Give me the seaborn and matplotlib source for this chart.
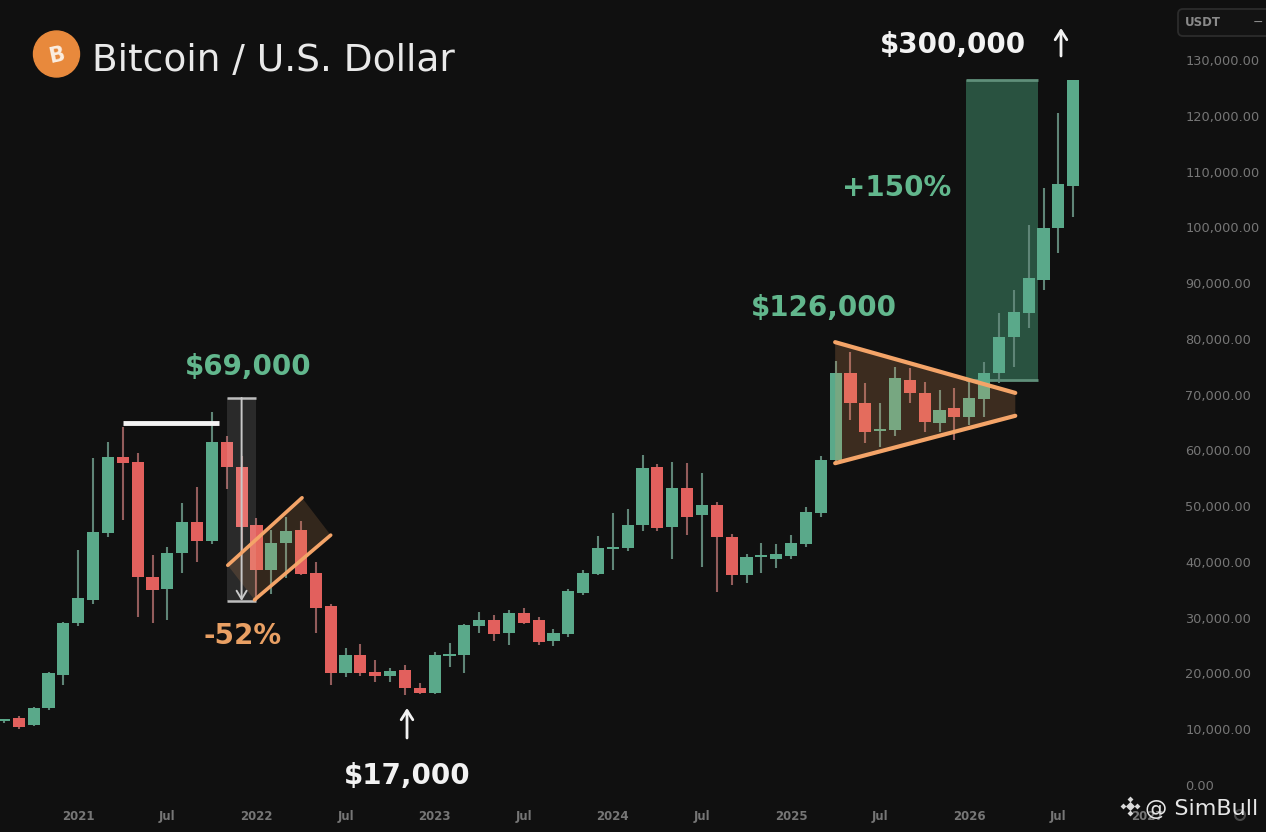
import numpy as np
import pandas as pd
import matplotlib
matplotlib.use("Agg")
import matplotlib.pyplot as plt
import seaborn as sns
from matplotlib.patches import Rectangle, Polygon, Circle, FancyBboxPatch

# ---------------- data: monthly candles (USD thousands) ----------------
months = pd.period_range("2020-08", periods=73, freq="M")
opens = [11.4, 12.0, 10.8, 13.8, 19.7, 29.0, 33.2, 45.2, 58.8, 57.9, 37.3, 35.1, 41.6, 47.2,
         43.8, 61.5, 57.0, 46.6, 38.5, 43.4, 45.7, 38.0, 32.1, 20.1, 23.3, 20.3, 19.6, 20.7,
         17.4, 16.5, 23.1, 23.3, 28.5, 29.6, 27.2, 30.9, 29.6, 25.8, 27.1, 34.4, 37.8, 42.3,
         42.5, 46.6, 57.0, 46.3, 53.3, 48.4, 50.2, 44.5, 37.7, 40.8, 40.5, 41.1, 43.2, 48.8,
         58.3, 73.9, 68.5, 63.5, 63.6, 72.6, 70.3, 64.9, 67.6, 66.0, 69.2, 73.9, 80.3, 84.6,
         90.5, 99.9, 107.4]
highs = [11.9, 12.3, 14.0, 20.3, 29.3, 42.1, 58.6, 61.5, 64.2, 59.5, 41.3, 42.7, 50.6, 53.4,
         66.9, 62.5, 59.0, 47.9, 45.8, 48.0, 47.4, 40.0, 32.4, 24.6, 25.2, 22.4, 21.0, 21.5,
         18.3, 23.9, 25.5, 28.9, 31.0, 30.5, 31.4, 31.8, 30.1, 28.0, 35.2, 38.5, 44.7, 48.8,
         49.5, 59.2, 57.5, 57.9, 57.7, 55.9, 50.7, 45.0, 41.5, 43.4, 43.2, 44.8, 49.8, 59.0,
         76.0, 77.6, 72.1, 68.5, 75.0, 74.7, 72.3, 70.8, 71.2, 72.3, 75.8, 84.6, 88.8, 100.4,
         107.0, 120.5, 126.4]
lows = [11.1, 10.1, 10.5, 13.5, 17.9, 28.5, 32.5, 44.5, 47.5, 30.1, 29.0, 29.6, 38.0, 40.0,
        43.3, 53.0, 42.0, 33.0, 34.3, 37.2, 37.6, 27.3, 17.9, 19.4, 19.6, 18.5, 18.4, 16.1,
        16.3, 16.4, 21.2, 20.1, 27.3, 25.8, 25.1, 28.9, 25.1, 25.0, 26.6, 34.1, 37.6, 38.5,
        42.0, 45.5, 45.5, 40.5, 44.9, 39.1, 34.6, 35.8, 36.2, 38.0, 38.9, 40.5, 42.7, 48.0,
        57.5, 65.4, 61.3, 60.6, 62.5, 68.5, 63.3, 63.3, 61.9, 64.5, 66.0, 72.0, 75.0, 82.0,
        88.8, 95.4, 101.8]
closes = [11.6, 10.4, 13.8, 20.1, 29.0, 33.5, 45.4, 58.8, 57.7, 37.3, 35.0, 41.6, 47.2, 43.8,
          61.5, 57.0, 46.3, 38.5, 43.4, 45.5, 37.8, 31.7, 20.1, 23.3, 20.1, 19.5, 20.5, 17.4,
          16.5, 23.3, 23.4, 28.7, 29.6, 27.1, 30.8, 29.0, 25.6, 27.2, 34.8, 38.0, 42.5, 42.6,
          46.6, 56.8, 46.1, 53.3, 48.1, 50.2, 44.5, 37.7, 40.9, 41.0, 41.4, 43.4, 48.9, 58.3,
          73.9, 68.5, 63.3, 63.9, 73.0, 70.3, 65.1, 67.2, 66.0, 69.4, 73.9, 80.3, 84.8, 90.9,
          99.9, 107.8, 126.4]

ytick_values = list(range(0, 130001, 10000))
ytick_labels = [f"{v:,.2f}" for v in ytick_values]
tick_months = pd.period_range("2020-08", "2027-01", freq="M")

# annotation geometry (month index, USD thousands)
ath_line_x = [8.0, 14.5]
ath_line_y = 64.9
drop_box_x = [15.0, 17.0]
drop_box_y = [33.0, 69.4]
flag_upper_x, flag_upper_y = [15.07, 20.07], [39.4, 51.5]
flag_lower_x, flag_lower_y = [16.87, 22.0], [33.2, 44.8]
tri_x = [55.97, 68.1]
tri_upper_y = [79.4, 70.3]
tri_lower_y = [57.7, 66.2]
rally_box_x = [64.8, 69.6]
rally_box_y = [72.6, 126.4]

# ---------------- style ----------------
BG = "#101010"
GREEN = "#5aa98a"
RED = "#e2605d"
GREEN_WICK = "#5f8577"
RED_WICK = "#935c5b"
sns.set_theme(style="dark", rc={"axes.facecolor": BG, "figure.facecolor": BG,
                                "axes.grid": False})
plt.rcParams["font.family"] = ["DejaVu Sans"]

W, H = 1266, 832
fig = plt.figure(figsize=(W / 100, H / 100), dpi=100, facecolor=BG)
ax = fig.add_axes([0, 32 / H, 1170 / W, 800 / H])
ax.set_facecolor(BG)

df = pd.DataFrame({"k": np.arange(len(opens)), "open": np.array(opens) * 1000,
                   "high": np.array(highs) * 1000, "low": np.array(lows) * 1000,
                   "close": np.array(closes) * 1000})
df["up"] = df["close"] >= df["open"]
df["bottom"] = df[["open", "close"]].min(axis=1)
df["height"] = (df["close"] - df["open"]).abs().clip(lower=350)
body_colors = np.where(df["up"], GREEN, RED)
wick_colors = np.where(df["up"], GREEN_WICK, RED_WICK)

ax.vlines(df["k"], df["low"], df["high"], colors=wick_colors, lw=1.5, zorder=2)
ax.bar(df["k"], df["height"], bottom=df["bottom"], width=0.82, color=body_colors,
       linewidth=0, zorder=3)

ax.set_xlim(-4 / 14.85, 1166 / 14.85)
ax.set_ylim(-2690, 140750)

# x ticks
xt, xl = [], []
for i, p in enumerate(tick_months):
    if p.month == 1:
        xt.append(i); xl.append(str(p.year))
    elif p.month == 7:
        xt.append(i); xl.append("Jul")
ax.set_xticks(xt)
ax.set_xticklabels(xl, fontweight="bold", color="#767676", fontsize=8.5)
ax.tick_params(axis="x", length=0, pad=7)
ax.yaxis.tick_right()
ax.set_yticks(ytick_values)
ax.set_yticklabels(ytick_labels)
ax.tick_params(axis="y", length=0, pad=11, labelsize=9.3, labelcolor="#767676")
for s in ax.spines.values():
    s.set_visible(False)

# ---------------- chart annotations (data coords) ----------------
K = 1000
ax.plot(ath_line_x, [ath_line_y * K] * 2, color="#f4f4f4", lw=3.5, solid_capstyle="butt", zorder=5)
ax.add_patch(Rectangle((drop_box_x[0], drop_box_y[0] * K), drop_box_x[1] - drop_box_x[0],
                       (drop_box_y[1] - drop_box_y[0]) * K, facecolor="#ffffff", alpha=0.11,
                       edgecolor="none", zorder=4))
mid = np.mean(drop_box_x)
ax.hlines([drop_box_y[0] * K, drop_box_y[1] * K], drop_box_x[0], drop_box_x[1],
          colors="#bdbdbd", lw=1.8, zorder=5)
ax.annotate("", xy=(mid, drop_box_y[0] * K), xytext=(mid, drop_box_y[1] * K),
            arrowprops=dict(arrowstyle="->,head_length=0.5,head_width=0.3", color="#c8c8c8",
                            lw=1.4, shrinkA=0, shrinkB=0), zorder=5)

flag_poly = [(flag_upper_x[0], flag_upper_y[0] * K), (flag_upper_x[1], flag_upper_y[1] * K),
             (flag_lower_x[1], flag_lower_y[1] * K), (flag_lower_x[0], flag_lower_y[0] * K)]
ax.add_patch(Polygon(flag_poly, closed=True, facecolor="#f0a060", alpha=0.16, edgecolor="none",
                     zorder=4))
ax.plot(flag_upper_x, np.array(flag_upper_y) * K, color="#f4a468", lw=2.6, zorder=5)
ax.plot(flag_lower_x, np.array(flag_lower_y) * K, color="#f4a468", lw=2.6, zorder=5)

tri_poly = [(tri_x[0], tri_upper_y[0] * K), (tri_x[1], tri_upper_y[1] * K),
            (tri_x[1], tri_lower_y[1] * K), (tri_x[0], tri_lower_y[0] * K)]
ax.add_patch(Polygon(tri_poly, closed=True, facecolor="#f0a060", alpha=0.2, edgecolor="none",
                     zorder=4))
ax.plot(tri_x, np.array(tri_upper_y) * K, color="#f4a468", lw=3, zorder=5)
ax.plot(tri_x, np.array(tri_lower_y) * K, color="#f4a468", lw=3, zorder=5)

ax.add_patch(Rectangle((rally_box_x[0], rally_box_y[0] * K), rally_box_x[1] - rally_box_x[0],
                       (rally_box_y[1] - rally_box_y[0]) * K, facecolor="#3f8a68", alpha=0.55,
                       edgecolor="none", zorder=1))
ax.hlines([rally_box_y[0] * K, rally_box_y[1] * K], rally_box_x[0], rally_box_x[1],
          colors="#5f8f7a", lw=2, zorder=1)

# ---------------- overlay texts (pixel coords) ----------------
ov = fig.add_axes([0, 0, 1, 1], zorder=10)
ov.set_xlim(0, W)
ov.set_ylim(H, 0)
ov.axis("off")
ov.patch.set_visible(False)

ov.add_patch(Circle((56.5, 54), 23, color="#e8893c"))
ov.text(56.5, 55, "B", fontsize=15, fontweight="bold", color="#fbeee2", ha="center",
        va="center", rotation=12)
ov.text(92, 71, "Bitcoin / U.S. Dollar", fontsize=27, color="#e9e9e9", ha="left",
        va="baseline")

TXT_GREEN = "#62b78d"
ov.text(248, 375, "$69,000", fontsize=20, fontweight="bold", color=TXT_GREEN, ha="center",
        va="baseline")
ov.text(407, 784, "$17,000", fontsize=20, fontweight="bold", color="#f2f2f2", ha="center",
        va="baseline")
ov.annotate("", xy=(407, 708), xytext=(407, 738),
            arrowprops=dict(arrowstyle="->,head_length=0.55,head_width=0.35", color="#f2f2f2",
                            lw=2, shrinkA=0, shrinkB=0))
ov.text(243, 644, "-52%", fontsize=20, fontweight="bold", color="#e9a064", ha="center",
        va="baseline")
ov.text(824, 316, "$126,000", fontsize=20, fontweight="bold", color=TXT_GREEN, ha="center",
        va="baseline")
ov.text(897, 196, "+150%", fontsize=20, fontweight="bold", color=TXT_GREEN, ha="center",
        va="baseline")
ov.text(953, 53, "$300,000", fontsize=20, fontweight="bold", color="#f2f2f2", ha="center",
        va="baseline")
ov.annotate("", xy=(1061, 28), xytext=(1061, 56),
            arrowprops=dict(arrowstyle="->,head_length=0.55,head_width=0.35", color="#f2f2f2",
                            lw=2, shrinkA=0, shrinkB=0))

# USDT box
ov.add_patch(FancyBboxPatch((1178, 9), 100, 27, boxstyle="round,pad=0,rounding_size=5",
                            ec="#2c2c2c", fc="#131313", lw=1.3))
ov.text(1185, 23, "USDT", fontsize=8.5, fontweight="bold", color="#8a8a8a", ha="left",
        va="center")
ov.text(1253, 22, "\u2212", fontsize=9, color="#8a8a8a", ha="left", va="center")

# watermark
cx, cy = 1130, 806
ov.scatter([cx], [cy], marker="D", s=22, color="#d9d9d9", linewidths=0)
ov.scatter([cx - 7, cx + 7, cx, cx], [cy, cy, cy - 7, cy + 7], marker="D", s=9,
           color="#d9d9d9", linewidths=0)
ov.text(1145, 815, "@ SimBull", fontsize=16, color="#e6e6e6", ha="left", va="baseline")
ov.add_patch(Circle((1240, 815), 5, fill=False, ec="#4a4a4a", lw=1.5))

fig.savefig("out.png", dpi=100, facecolor=BG)
